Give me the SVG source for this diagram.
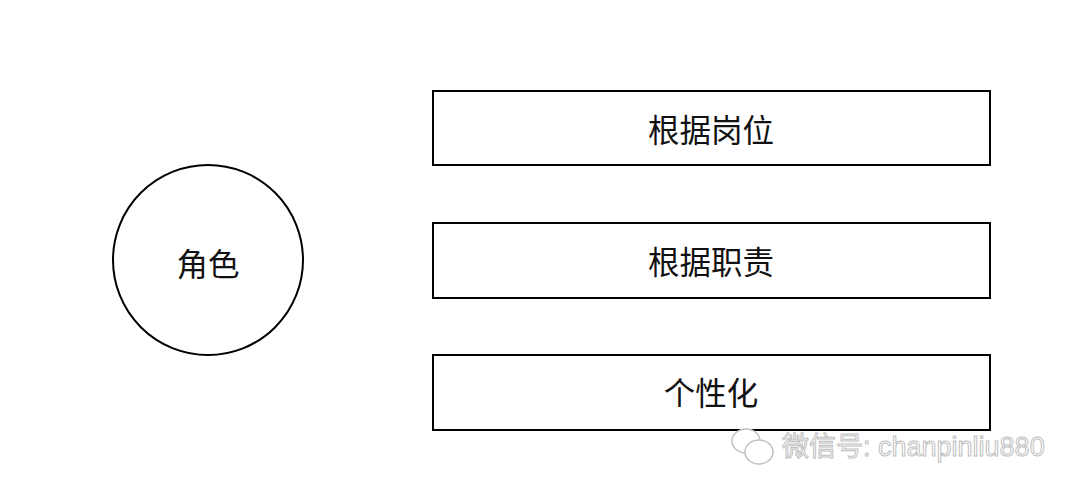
<svg xmlns="http://www.w3.org/2000/svg" width="1080" height="497" viewBox="0 0 1080 497">
<style>
.box{fill:#fff;stroke:#000;stroke-width:2}
.lbl{font-family:"Noto Sans CJK SC","Liberation Sans",sans-serif;font-size:31.5px;fill:#111;text-anchor:middle;dominant-baseline:central}
.wm{font-family:"Liberation Sans","Noto Sans CJK SC",sans-serif;font-size:27px;fill:#fff;stroke:#c0c0c0;stroke-width:1}
</style>
<rect width="1080" height="497" fill="#fff"/>
<g id="role">
<circle class="box" cx="208" cy="260" r="95"/>
<text class="lbl" x="208" y="262">角色</text>
</g>
<g id="by-position">
<rect class="box" x="433" y="91" width="557" height="74"/>
<text class="lbl" x="711" y="128">根据岗位</text>
</g>
<g id="by-duty">
<rect class="box" x="433" y="223" width="557" height="75"/>
<text class="lbl" x="711" y="260">根据职责</text>
</g>
<g id="personal">
<rect class="box" x="433" y="355" width="557" height="75"/>
<text class="lbl" x="711" y="391">个性化</text>
</g>
<g id="connectors"></g>
<g id="watermark">
<g fill="#fff" stroke="#c0c0c0" stroke-width="1.5">
<ellipse cx="746" cy="441" rx="14" ry="12"/>
<ellipse cx="759" cy="452" rx="14" ry="12"/>
</g>
<text class="wm" x="782" y="456">微信号: chanpinliu880</text>
</g>
</svg>
